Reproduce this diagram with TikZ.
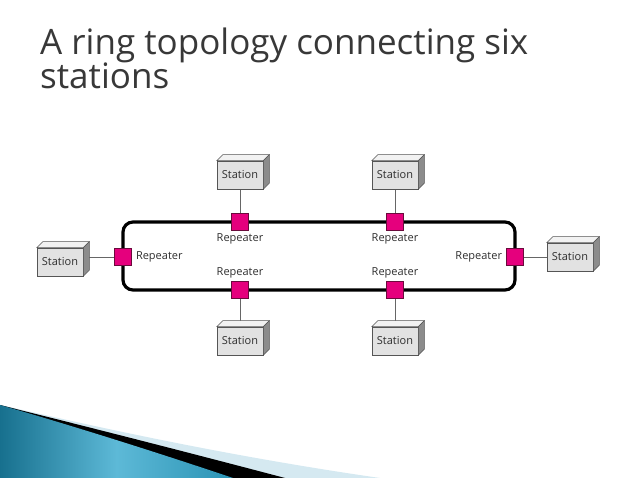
\documentclass[tikz,border=0pt]{standalone}
\usepackage{fontspec}
\setmainfont{Open Sans}
\usepackage{xcolor}
\usepackage{tikz}
\usetikzlibrary{shapes,positioning,calc}
\definecolor{titlegray}{HTML}{383838}
\definecolor{textgray}{HTML}{2E2E2E}
\definecolor{repfill}{HTML}{E5007D}
\definecolor{repdraw}{HTML}{6A0B3C}
\definecolor{boxfront}{HTML}{E2E2E2}
\definecolor{boxtop}{HTML}{F2F2F2}
\definecolor{boxside}{HTML}{8C8C8C}
\definecolor{boxdraw}{HTML}{555555}
\definecolor{tealdark}{HTML}{17708E}
\definecolor{teallight}{HTML}{5DB9D7}
\definecolor{tealmid}{HTML}{2A93B4}
\definecolor{lightblue}{HTML}{D5E9F1}
\newcommand{\stationbox}[2]{%
    % #1=name, #2=position
    \node[station] (#1) at (#2) {Station};
    \filldraw[fill=boxtop, draw=boxdraw, line width=0.5pt] (#1.north west) -- ++(6,-6) -- ([shift={(6pt,6pt)}]#1.north east) -- (#1.north east) -- cycle;
    \filldraw[fill=boxside, draw=boxdraw, line width=0.5pt] (#1.north east) -- ++(6,-6) -- ([shift={(6pt,6pt)}]#1.south east) -- (#1.south east) -- cycle;
}

\begin{document}
\begin{tikzpicture}[x=1pt, y=-1pt,
    station/.style={rectangle, draw=boxdraw, fill=boxfront, line width=0.5pt, minimum width=46pt, minimum height=28pt, inner sep=0pt, font=\fontsize{11}{13}\selectfont, text=textgray},
    repeater/.style={rectangle, draw=repdraw, fill=repfill, line width=0.6pt, minimum size=17pt, inner sep=0pt},
    replabel/.style={font=\fontsize{11}{13}\selectfont, text=textgray, inner sep=1pt},
    link/.style={draw=black!60, line width=0.8pt},
    ring/.style={draw=black, line width=3.2pt, rounded corners=10pt},
    titletext/.style={anchor=base west, inner sep=0pt, text=titlegray, font=\fontsize{35}{40}\selectfont}
]
    \useasboundingbox (0,0) rectangle (638,478);

    % bottom swoosh
    \fill[lightblue] (0,405) .. controls (60,418) and (200,452) .. (380,478) -- (0,478) -- cycle;
    \fill[black] (0,405) .. controls (60,420) and (160,445) .. (285,478) -- (0,478) -- cycle;
    \shade[left color=tealdark, right color=tealmid, middle color=teallight] (0,405) .. controls (60,422) and (150,450) .. (233,478) -- (0,478) -- cycle;

    % title
    \node[titletext] (title1) at (40,55) {A ring topology connecting six};
    \node[titletext] (title2) at (40,89) {stations};

    % ring
    \draw[ring] (123,222) rectangle (515,290);

    % repeaters
    \node[repeater, label={[replabel, label distance=2pt]below:Repeater}] (rt1) at (240,222) {};
    \node[repeater, label={[replabel, label distance=2pt]below:Repeater}] (rt2) at (395,222) {};
    \node[repeater, label={[replabel, label distance=2pt]above:Repeater}] (rb1) at (240,290) {};
    \node[repeater, label={[replabel, label distance=2pt]above:Repeater}] (rb2) at (395,290) {};
    \node[repeater, label={[replabel, label distance=3pt]right:Repeater}] (rl) at (123,257) {};
    \node[repeater, label={[replabel, label distance=3pt]left:Repeater}] (rr) at (515,257) {};

    % links
    \coordinate (st1) at (240,175);
    \coordinate (st2) at (395,175);
    \coordinate (sb1) at (240,341);
    \coordinate (sb2) at (395,341);
    \draw[link] (rt1.north) -- (240,189);
    \draw[link] (rt2.north) -- (395,189);
    \draw[link] (rb1.south) -- (240,321);
    \draw[link] (rb2.south) -- (395,321);

    % stations
    \stationbox{stat1}{st1}
    \stationbox{stat2}{st2}
    \stationbox{stab1}{sb1}
    \stationbox{stab2}{sb2}
    \stationbox{stal}{60,262}
    \stationbox{star}{570,257}

    \draw[link] ([xshift=6pt]stal.east |- rl.west) -- (rl.west);
    \draw[link] (rr.east) -- (star.west |- rr.east);
\end{tikzpicture}
\end{document}
